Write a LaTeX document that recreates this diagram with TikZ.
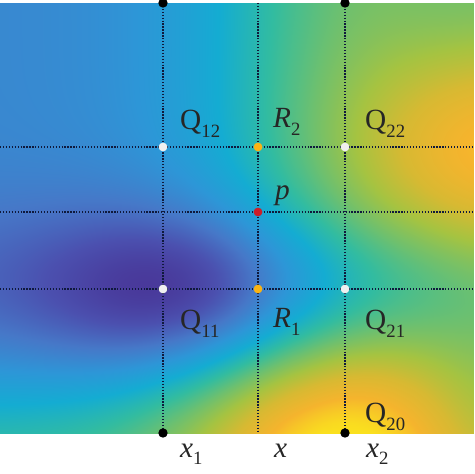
\documentclass[tikz,border=0pt]{standalone}
\usepackage{pgfplots}
\usepackage{fontspec}
\setmainfont{Liberation Serif}
\pgfplotsset{compat=1.18}
\definecolor{gridc}{RGB}{15,25,60}
\definecolor{rdot}{RGB}{250,180,20}
\definecolor{pdot}{RGB}{205,30,40}
\definecolor{qdot}{RGB}{240,240,240}
\newcommand{\lblsub}[2]{#1\raisebox{-6.8pt}{\fontsize{16}{18}\selectfont #2}}
\begin{document}
\begin{tikzpicture}[x=0.03cm,y=0.03cm,
  gridline/.style={gridc, line width=1.1pt, dash pattern=on 1.1pt off 1.4pt},
  enddot/.style={circle, fill=black, inner sep=0pt, minimum size=8pt},
  qpt/.style={circle, fill=qdot, inner sep=0pt, minimum size=7.5pt},
  rpt/.style={circle, fill=rdot, inner sep=0pt, minimum size=7.5pt},
  ppt/.style={circle, fill=pdot, inner sep=0pt, minimum size=7.5pt},
  lab/.style={anchor=base west, inner sep=0pt, text=black!85, font=\fontsize{25}{29}\selectfont}]
\useasboundingbox (0,0) rectangle (474,474);
\fill[white] (0,0) rectangle (474,474);
\begin{axis}[at={(0,41)}, anchor=south west, scale only axis,
  width=14.22cm, height=12.9cm, xmin=0, xmax=474, ymin=41, ymax=471,
  enlargelimits=false, hide axis, view={0}{90},
  colormap={refmap}{rgb255=(72,52,150) rgb255=(75,80,175) rgb255=(70,120,200)
    rgb255=(45,150,215) rgb255=(20,172,210) rgb255=(50,188,160) rgb255=(110,192,110)
    rgb255=(165,195,65) rgb255=(215,185,50) rgb255=(245,180,45) rgb255=(250,225,30)},
  point meta min=0, point meta max=1]
\addplot3[surf, shader=interp, domain=0:474, y domain=41:471, samples=48, samples y=44]
 {0.25 + 0.45/(1+exp(-(x-260)/60))
  - 0.08*exp(-((474-y)-285)^2/(2*65^2))
  - 0.24*exp(-(x-185)^2/(2*100^2) - ((474-y)-290)^2/(2*55^2))
  - 0.08*exp(-(x-400)^2/(2*100^2) - ((474-y)-290)^2/(2*50^2))
  + 0.25*exp(-((474-y)-470)^2/(2*70^2))*(1-0.6/(1+exp(-(x-300)/50)))
  + 0.3*exp(-(x-340)^2/(2*110^2) - ((474-y)-445)^2/(2*75^2))
  + 0.25*exp(-(x-500)^2/(2*100^2) - ((474-y)-150)^2/(2*75^2))
  - 0.1*exp(-(x-480)^2/(2*80^2) - ((474-y))^2/(2*70^2))
  - 0.15*exp(-((x-480)^2+((474-y)-430)^2)/(2*60^2))};
\end{axis}
% grid coordinates
\coordinate (vt1) at (163,471); \coordinate (vb1) at (163,41);
\coordinate (vtx) at (258,471); \coordinate (vbx) at (258,41);
\coordinate (vt2) at (345,471); \coordinate (vb2) at (345,41);
\coordinate (hl2) at (0,327); \coordinate (hr2) at (474,327);
\coordinate (hlp) at (0,262); \coordinate (hrp) at (474,262);
\coordinate (hl1) at (0,185); \coordinate (hr1) at (474,185);
\draw[gridline] (vt1) -- (vb1);
\draw[gridline] (vtx) -- (vbx);
\draw[gridline] (vt2) -- (vb2);
\draw[gridline] (hl2) -- (hr2);
\draw[gridline] (hlp) -- (hrp);
\draw[gridline] (hl1) -- (hr1);
% points
\node[enddot] (t1) at (vt1) {};
\node[enddot] (t2) at (vt2) {};
\node[enddot] (b1) at (vb1) {};
\node[enddot] (b2) at (vb2) {};
\node[qpt] (Q12) at (163,327) {};
\node[qpt] (Q22) at (345,327) {};
\node[qpt] (Q11) at (163,185) {};
\node[qpt] (Q21) at (345,185) {};
\node[rpt] (R2) at (258,327) {};
\node[rpt] (R1) at (258,185) {};
\node[ppt] (P) at (258,262) {};
% labels
\node[lab] (lQ12) at (180,344) {\lblsub{Q}{12}};
\node[lab] (lR2) at (273,346) {\lblsub{\textit{R}}{2}};
\node[lab] (lQ22) at (365,344) {\lblsub{Q}{22}};
\node[lab] (lp) at (275,274) {\textit{p}};
\node[lab] (lQ11) at (180,144) {\lblsub{Q}{11}};
\node[lab] (lR1) at (273,146) {\lblsub{\textit{R}}{1}};
\node[lab] (lQ21) at (365,144) {\lblsub{Q}{21}};
\node[lab] (lQ20) at (365,51) {\lblsub{Q}{20}};
\node[lab] (lx1) at (180,17) {\lblsub{\textit{x}}{1}};
\node[lab] (lx) at (274,17) {\textit{x}};
\node[lab] (lx2) at (366,17) {\lblsub{\textit{x}}{2}};
\end{tikzpicture}
\end{document}
